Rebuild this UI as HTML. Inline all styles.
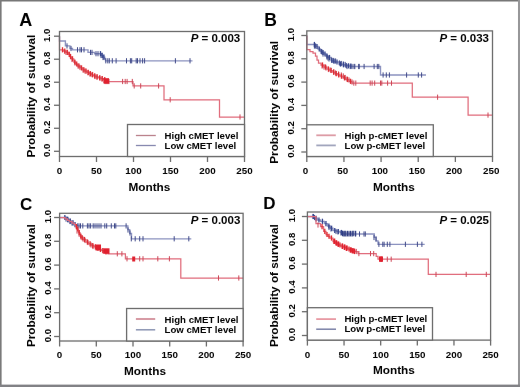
<!DOCTYPE html>
<html><head><meta charset="utf-8"><style>
html,body{margin:0;padding:0;background:#fff;}
svg{display:block;font-family:"Liberation Sans", sans-serif;}
</style></head><body>
<svg width="520" height="387" viewBox="0 0 520 387">
<defs><filter id="bl" x="-2%" y="-2%" width="104%" height="104%" color-interpolation-filters="sRGB"><feConvolveMatrix order="3" kernelMatrix="0.00027 0.01580 0.00027 0.01580 0.93575 0.01580 0.00027 0.01580 0.00027" edgeMode="duplicate" preserveAlpha="false"/></filter></defs>
<g filter="url(#bl)">
<rect x="0" y="0" width="520" height="387" fill="#fff"/>
<path d="M59.50 36.20 V41.00 H65.40 V45.90 H69.90 V48.50 H72.50 V49.80 H88.00 V52.40 H94.50 V53.70 H99.60 H101.33 V55.40 H103.07 V57.10 H104.80 V58.80 H105.50 V60.80 H192.50" fill="none" stroke="#8a91bf" stroke-width="1.35"/>
<line x1="67.00" y1="43.30" x2="67.00" y2="48.50" stroke="#3e4888" stroke-width="1.0"/>
<line x1="71.00" y1="45.90" x2="71.00" y2="51.10" stroke="#3e4888" stroke-width="1.0"/>
<line x1="77.50" y1="47.20" x2="77.50" y2="52.40" stroke="#3e4888" stroke-width="1.0"/>
<line x1="80.00" y1="47.20" x2="80.00" y2="52.40" stroke="#3e4888" stroke-width="1.0"/>
<line x1="81.50" y1="47.20" x2="81.50" y2="52.40" stroke="#3e4888" stroke-width="1.0"/>
<line x1="84.00" y1="47.20" x2="84.00" y2="52.40" stroke="#3e4888" stroke-width="1.0"/>
<line x1="90.50" y1="49.80" x2="90.50" y2="55.00" stroke="#3e4888" stroke-width="1.0"/>
<line x1="92.00" y1="49.80" x2="92.00" y2="55.00" stroke="#3e4888" stroke-width="1.0"/>
<line x1="96.00" y1="51.10" x2="96.00" y2="56.30" stroke="#3e4888" stroke-width="1.0"/>
<line x1="98.00" y1="51.10" x2="98.00" y2="56.30" stroke="#3e4888" stroke-width="1.0"/>
<line x1="101.00" y1="52.90" x2="101.00" y2="58.10" stroke="#3e4888" stroke-width="1.0"/>
<line x1="103.00" y1="54.90" x2="103.00" y2="60.10" stroke="#3e4888" stroke-width="1.0"/>
<line x1="105.80" y1="58.20" x2="105.80" y2="63.40" stroke="#3e4888" stroke-width="1.0"/>
<line x1="107.80" y1="58.20" x2="107.80" y2="63.40" stroke="#3e4888" stroke-width="1.0"/>
<line x1="109.30" y1="58.20" x2="109.30" y2="63.40" stroke="#3e4888" stroke-width="1.0"/>
<line x1="112.30" y1="58.20" x2="112.30" y2="63.40" stroke="#3e4888" stroke-width="1.0"/>
<line x1="116.10" y1="58.20" x2="116.10" y2="63.40" stroke="#3e4888" stroke-width="1.0"/>
<line x1="126.50" y1="58.20" x2="126.50" y2="63.40" stroke="#3e4888" stroke-width="1.0"/>
<line x1="130.40" y1="58.20" x2="130.40" y2="63.40" stroke="#3e4888" stroke-width="1.0"/>
<line x1="131.70" y1="58.20" x2="131.70" y2="63.40" stroke="#3e4888" stroke-width="1.0"/>
<line x1="136.20" y1="58.20" x2="136.20" y2="63.40" stroke="#3e4888" stroke-width="1.0"/>
<line x1="137.50" y1="58.20" x2="137.50" y2="63.40" stroke="#3e4888" stroke-width="1.0"/>
<line x1="140.00" y1="58.20" x2="140.00" y2="63.40" stroke="#3e4888" stroke-width="1.0"/>
<line x1="142.60" y1="58.20" x2="142.60" y2="63.40" stroke="#3e4888" stroke-width="1.0"/>
<line x1="144.60" y1="58.20" x2="144.60" y2="63.40" stroke="#3e4888" stroke-width="1.0"/>
<line x1="175.40" y1="58.20" x2="175.40" y2="63.40" stroke="#3e4888" stroke-width="1.0"/>
<line x1="190.00" y1="58.20" x2="190.00" y2="63.40" stroke="#3e4888" stroke-width="1.0"/>
<line x1="100.47" y1="51.10" x2="100.47" y2="56.30" stroke="#34448e" stroke-width="1.3"/>
<line x1="102.20" y1="52.80" x2="102.20" y2="58.00" stroke="#34448e" stroke-width="1.3"/>
<line x1="103.93" y1="54.50" x2="103.93" y2="59.70" stroke="#34448e" stroke-width="1.3"/>
<path d="M59.50 36.20 V49.80 H61.50 H63.50 V51.10 H66.00 V52.40 H68.60 V54.30 H69.90 V56.55 H71.20 V58.80 H73.80 V62.00 H75.75 V64.00 H77.70 V66.00 H80.25 V67.90 H82.80 V69.80 H84.97 V71.10 H87.13 V72.40 H89.30 V73.70 H91.47 V74.77 H93.63 V75.83 H95.80 V76.90 H98.37 V77.77 H100.93 V78.63 H103.50 V79.50 H106.00 V81.50 H133.00 V85.90 H164.00 V99.80 H219.50 V117.00 H244.50" fill="none" stroke="#e06a7a" stroke-width="1.25"/>
<line x1="66.00" y1="49.80" x2="66.00" y2="55.00" stroke="#cc4454" stroke-width="1.0"/>
<line x1="72.00" y1="56.90" x2="72.00" y2="62.10" stroke="#cc4454" stroke-width="1.0"/>
<line x1="75.00" y1="60.40" x2="75.00" y2="65.60" stroke="#cc4454" stroke-width="1.0"/>
<line x1="78.00" y1="63.40" x2="78.00" y2="68.60" stroke="#cc4454" stroke-width="1.0"/>
<line x1="80.00" y1="64.90" x2="80.00" y2="70.10" stroke="#cc4454" stroke-width="1.0"/>
<line x1="83.00" y1="67.40" x2="83.00" y2="72.60" stroke="#cc4454" stroke-width="1.0"/>
<line x1="85.00" y1="68.40" x2="85.00" y2="73.60" stroke="#cc4454" stroke-width="1.0"/>
<line x1="88.00" y1="70.20" x2="88.00" y2="75.40" stroke="#cc4454" stroke-width="1.0"/>
<line x1="90.00" y1="71.40" x2="90.00" y2="76.60" stroke="#cc4454" stroke-width="1.0"/>
<line x1="92.00" y1="71.90" x2="92.00" y2="77.10" stroke="#cc4454" stroke-width="1.0"/>
<line x1="95.00" y1="73.90" x2="95.00" y2="79.10" stroke="#cc4454" stroke-width="1.0"/>
<line x1="97.00" y1="74.40" x2="97.00" y2="79.60" stroke="#cc4454" stroke-width="1.0"/>
<line x1="100.00" y1="75.60" x2="100.00" y2="80.80" stroke="#cc4454" stroke-width="1.0"/>
<line x1="102.00" y1="76.40" x2="102.00" y2="81.60" stroke="#cc4454" stroke-width="1.0"/>
<line x1="104.00" y1="77.90" x2="104.00" y2="83.10" stroke="#cc4454" stroke-width="1.0"/>
<line x1="105.00" y1="78.90" x2="105.00" y2="84.10" stroke="#cc4454" stroke-width="1.0"/>
<line x1="106.00" y1="78.90" x2="106.00" y2="84.10" stroke="#cc4454" stroke-width="1.0"/>
<line x1="107.00" y1="78.90" x2="107.00" y2="84.10" stroke="#cc4454" stroke-width="1.0"/>
<line x1="108.00" y1="78.90" x2="108.00" y2="84.10" stroke="#cc4454" stroke-width="1.0"/>
<line x1="109.00" y1="78.90" x2="109.00" y2="84.10" stroke="#cc4454" stroke-width="1.0"/>
<line x1="122.60" y1="78.90" x2="122.60" y2="84.10" stroke="#cc4454" stroke-width="1.0"/>
<line x1="125.20" y1="78.90" x2="125.20" y2="84.10" stroke="#cc4454" stroke-width="1.0"/>
<line x1="127.10" y1="78.90" x2="127.10" y2="84.10" stroke="#cc4454" stroke-width="1.0"/>
<line x1="132.30" y1="78.90" x2="132.30" y2="84.10" stroke="#cc4454" stroke-width="1.0"/>
<line x1="134.20" y1="83.30" x2="134.20" y2="88.50" stroke="#cc4454" stroke-width="1.0"/>
<line x1="140.70" y1="83.30" x2="140.70" y2="88.50" stroke="#cc4454" stroke-width="1.0"/>
<line x1="158.60" y1="83.30" x2="158.60" y2="88.50" stroke="#cc4454" stroke-width="1.0"/>
<line x1="170.20" y1="97.20" x2="170.20" y2="102.40" stroke="#cc4454" stroke-width="1.0"/>
<line x1="240.00" y1="114.40" x2="240.00" y2="119.60" stroke="#cc4454" stroke-width="1.0"/>
<line x1="62.50" y1="47.20" x2="62.50" y2="52.40" stroke="#e02a30" stroke-width="1.3"/>
<line x1="64.75" y1="48.50" x2="64.75" y2="53.70" stroke="#e02a30" stroke-width="1.3"/>
<line x1="67.30" y1="49.80" x2="67.30" y2="55.00" stroke="#e02a30" stroke-width="1.3"/>
<line x1="69.25" y1="51.70" x2="69.25" y2="56.90" stroke="#e02a30" stroke-width="1.3"/>
<line x1="70.55" y1="53.95" x2="70.55" y2="59.15" stroke="#e02a30" stroke-width="1.3"/>
<line x1="72.50" y1="56.20" x2="72.50" y2="61.40" stroke="#e02a30" stroke-width="1.3"/>
<line x1="74.78" y1="59.40" x2="74.78" y2="64.60" stroke="#e02a30" stroke-width="1.3"/>
<line x1="76.72" y1="61.40" x2="76.72" y2="66.60" stroke="#e02a30" stroke-width="1.3"/>
<line x1="78.97" y1="63.40" x2="78.97" y2="68.60" stroke="#e02a30" stroke-width="1.3"/>
<line x1="81.53" y1="65.30" x2="81.53" y2="70.50" stroke="#e02a30" stroke-width="1.3"/>
<line x1="83.88" y1="67.20" x2="83.88" y2="72.40" stroke="#e02a30" stroke-width="1.3"/>
<line x1="86.05" y1="68.50" x2="86.05" y2="73.70" stroke="#e02a30" stroke-width="1.3"/>
<line x1="88.22" y1="69.80" x2="88.22" y2="75.00" stroke="#e02a30" stroke-width="1.3"/>
<line x1="90.38" y1="71.10" x2="90.38" y2="76.30" stroke="#e02a30" stroke-width="1.3"/>
<line x1="92.55" y1="72.17" x2="92.55" y2="77.37" stroke="#e02a30" stroke-width="1.3"/>
<line x1="94.72" y1="73.23" x2="94.72" y2="78.43" stroke="#e02a30" stroke-width="1.3"/>
<line x1="97.08" y1="74.30" x2="97.08" y2="79.50" stroke="#e02a30" stroke-width="1.3"/>
<line x1="99.65" y1="75.17" x2="99.65" y2="80.37" stroke="#e02a30" stroke-width="1.3"/>
<line x1="102.22" y1="76.03" x2="102.22" y2="81.23" stroke="#e02a30" stroke-width="1.3"/>
<line x1="104.75" y1="76.90" x2="104.75" y2="82.10" stroke="#e02a30" stroke-width="1.3"/>
<rect x="59.5" y="31.5" width="185.0" height="125.0" fill="none" stroke="#6a6a6a" stroke-width="1.3"/>
<line x1="54.0" y1="151.30" x2="59.5" y2="151.30" stroke="#6a6a6a" stroke-width="1.3"/>
<text transform="translate(50.30,150.40) rotate(-90)" text-anchor="middle" font-size="9.6" font-weight="bold">0.0</text>
<line x1="54.0" y1="128.28" x2="59.5" y2="128.28" stroke="#6a6a6a" stroke-width="1.3"/>
<text transform="translate(50.30,127.38) rotate(-90)" text-anchor="middle" font-size="9.6" font-weight="bold">0.2</text>
<line x1="54.0" y1="105.26" x2="59.5" y2="105.26" stroke="#6a6a6a" stroke-width="1.3"/>
<text transform="translate(50.30,104.36) rotate(-90)" text-anchor="middle" font-size="9.6" font-weight="bold">0.4</text>
<line x1="54.0" y1="82.24" x2="59.5" y2="82.24" stroke="#6a6a6a" stroke-width="1.3"/>
<text transform="translate(50.30,81.34) rotate(-90)" text-anchor="middle" font-size="9.6" font-weight="bold">0.6</text>
<line x1="54.0" y1="59.22" x2="59.5" y2="59.22" stroke="#6a6a6a" stroke-width="1.3"/>
<text transform="translate(50.30,58.32) rotate(-90)" text-anchor="middle" font-size="9.6" font-weight="bold">0.8</text>
<line x1="54.0" y1="36.20" x2="59.5" y2="36.20" stroke="#6a6a6a" stroke-width="1.3"/>
<text transform="translate(50.30,35.30) rotate(-90)" text-anchor="middle" font-size="9.6" font-weight="bold">1.0</text>
<line x1="59.50" y1="156.5" x2="59.50" y2="162.0" stroke="#6a6a6a" stroke-width="1.3"/>
<text x="59.50" y="173.9" text-anchor="middle" font-size="9.8" font-weight="bold">0</text>
<line x1="96.50" y1="156.5" x2="96.50" y2="162.0" stroke="#6a6a6a" stroke-width="1.3"/>
<text x="96.50" y="173.9" text-anchor="middle" font-size="9.8" font-weight="bold">50</text>
<line x1="133.50" y1="156.5" x2="133.50" y2="162.0" stroke="#6a6a6a" stroke-width="1.3"/>
<text x="133.50" y="173.9" text-anchor="middle" font-size="9.8" font-weight="bold">100</text>
<line x1="170.50" y1="156.5" x2="170.50" y2="162.0" stroke="#6a6a6a" stroke-width="1.3"/>
<text x="170.50" y="173.9" text-anchor="middle" font-size="9.8" font-weight="bold">150</text>
<line x1="207.50" y1="156.5" x2="207.50" y2="162.0" stroke="#6a6a6a" stroke-width="1.3"/>
<text x="207.50" y="173.9" text-anchor="middle" font-size="9.8" font-weight="bold">200</text>
<line x1="244.50" y1="156.5" x2="244.50" y2="162.0" stroke="#6a6a6a" stroke-width="1.3"/>
<text x="244.50" y="173.9" text-anchor="middle" font-size="9.8" font-weight="bold">250</text>
<text x="19.2" y="25.8" font-size="18" font-weight="bold">A</text>
<text x="149.4" y="190.9" text-anchor="middle" font-size="11.8" font-weight="bold">Months</text>
<text transform="translate(35.2,96) rotate(-90)" text-anchor="middle" font-size="11.75" font-weight="bold">Probability of survival</text>
<text x="240.2" y="41.9" text-anchor="end" font-size="11.5" font-weight="bold"><tspan font-style="italic">P</tspan> = 0.003</text>
<rect x="127.5" y="124.5" width="117.0" height="32.0" fill="#fff" stroke="#6a6a6a" stroke-width="1.3"/>
<line x1="135.9" y1="135.5" x2="155.8" y2="135.5" stroke="#b97f8a" stroke-width="1.3"/>
<line x1="135.9" y1="145.5" x2="155.8" y2="145.5" stroke="#8587ae" stroke-width="1.3"/>
<text x="164.5" y="138.7" font-size="9.65" font-weight="bold">High cMET level</text>
<text x="164.5" y="148.6" font-size="9.65" font-weight="bold">Low cMET level</text>
<path d="M306.80 35.50 V44.50 H312.80 H316.00 V46.50 H318.00 V49.00 H320.50 V51.50 H322.00 V52.50 H324.00 V54.00 H326.00 V56.00 H328.00 V57.50 H331.00 V60.50 H333.00 V61.25 H335.00 V62.00 H339.00 V64.00 H342.00 V64.75 H345.00 V65.50 H347.33 V65.83 H349.67 V66.17 H352.00 V66.50 H380.50 V75.00 H426.00" fill="none" stroke="#8a91bf" stroke-width="1.35"/>
<line x1="314.40" y1="43.40" x2="314.40" y2="48.60" stroke="#3e4888" stroke-width="1.0"/>
<line x1="315.40" y1="43.40" x2="315.40" y2="48.60" stroke="#3e4888" stroke-width="1.0"/>
<line x1="322.00" y1="49.40" x2="322.00" y2="54.60" stroke="#3e4888" stroke-width="1.0"/>
<line x1="323.00" y1="51.40" x2="323.00" y2="56.60" stroke="#3e4888" stroke-width="1.0"/>
<line x1="327.00" y1="54.40" x2="327.00" y2="59.60" stroke="#3e4888" stroke-width="1.0"/>
<line x1="328.00" y1="55.40" x2="328.00" y2="60.60" stroke="#3e4888" stroke-width="1.0"/>
<line x1="329.00" y1="56.40" x2="329.00" y2="61.60" stroke="#3e4888" stroke-width="1.0"/>
<line x1="331.70" y1="57.40" x2="331.70" y2="62.60" stroke="#3e4888" stroke-width="1.0"/>
<line x1="333.70" y1="57.90" x2="333.70" y2="63.10" stroke="#3e4888" stroke-width="1.0"/>
<line x1="335.60" y1="58.40" x2="335.60" y2="63.60" stroke="#3e4888" stroke-width="1.0"/>
<line x1="339.40" y1="60.40" x2="339.40" y2="65.60" stroke="#3e4888" stroke-width="1.0"/>
<line x1="341.30" y1="60.90" x2="341.30" y2="66.10" stroke="#3e4888" stroke-width="1.0"/>
<line x1="343.30" y1="61.40" x2="343.30" y2="66.60" stroke="#3e4888" stroke-width="1.0"/>
<line x1="345.20" y1="61.90" x2="345.20" y2="67.10" stroke="#3e4888" stroke-width="1.0"/>
<line x1="347.00" y1="63.90" x2="347.00" y2="69.10" stroke="#3e4888" stroke-width="1.0"/>
<line x1="350.20" y1="63.90" x2="350.20" y2="69.10" stroke="#3e4888" stroke-width="1.0"/>
<line x1="352.00" y1="63.90" x2="352.00" y2="69.10" stroke="#3e4888" stroke-width="1.0"/>
<line x1="354.00" y1="63.90" x2="354.00" y2="69.10" stroke="#3e4888" stroke-width="1.0"/>
<line x1="354.80" y1="63.90" x2="354.80" y2="69.10" stroke="#3e4888" stroke-width="1.0"/>
<line x1="358.70" y1="63.90" x2="358.70" y2="69.10" stroke="#3e4888" stroke-width="1.0"/>
<line x1="359.20" y1="63.90" x2="359.20" y2="69.10" stroke="#3e4888" stroke-width="1.0"/>
<line x1="364.10" y1="63.90" x2="364.10" y2="69.10" stroke="#3e4888" stroke-width="1.0"/>
<line x1="374.10" y1="63.90" x2="374.10" y2="69.10" stroke="#3e4888" stroke-width="1.0"/>
<line x1="377.30" y1="63.90" x2="377.30" y2="69.10" stroke="#3e4888" stroke-width="1.0"/>
<line x1="378.80" y1="63.90" x2="378.80" y2="69.10" stroke="#3e4888" stroke-width="1.0"/>
<line x1="383.10" y1="72.40" x2="383.10" y2="77.60" stroke="#3e4888" stroke-width="1.0"/>
<line x1="386.30" y1="72.40" x2="386.30" y2="77.60" stroke="#3e4888" stroke-width="1.0"/>
<line x1="389.40" y1="72.40" x2="389.40" y2="77.60" stroke="#3e4888" stroke-width="1.0"/>
<line x1="406.60" y1="72.40" x2="406.60" y2="77.60" stroke="#3e4888" stroke-width="1.0"/>
<line x1="418.30" y1="72.40" x2="418.30" y2="77.60" stroke="#3e4888" stroke-width="1.0"/>
<line x1="421.60" y1="72.40" x2="421.60" y2="77.60" stroke="#3e4888" stroke-width="1.0"/>
<line x1="314.40" y1="41.90" x2="314.40" y2="47.10" stroke="#34448e" stroke-width="1.3"/>
<line x1="317.00" y1="43.90" x2="317.00" y2="49.10" stroke="#34448e" stroke-width="1.3"/>
<line x1="319.25" y1="46.40" x2="319.25" y2="51.60" stroke="#34448e" stroke-width="1.3"/>
<line x1="321.25" y1="48.90" x2="321.25" y2="54.10" stroke="#34448e" stroke-width="1.3"/>
<line x1="323.00" y1="49.90" x2="323.00" y2="55.10" stroke="#34448e" stroke-width="1.3"/>
<line x1="325.00" y1="51.40" x2="325.00" y2="56.60" stroke="#34448e" stroke-width="1.3"/>
<line x1="327.00" y1="53.40" x2="327.00" y2="58.60" stroke="#34448e" stroke-width="1.3"/>
<line x1="329.50" y1="54.90" x2="329.50" y2="60.10" stroke="#34448e" stroke-width="1.3"/>
<line x1="332.00" y1="57.90" x2="332.00" y2="63.10" stroke="#34448e" stroke-width="1.3"/>
<line x1="334.00" y1="58.65" x2="334.00" y2="63.85" stroke="#34448e" stroke-width="1.3"/>
<line x1="337.00" y1="59.40" x2="337.00" y2="64.60" stroke="#34448e" stroke-width="1.3"/>
<line x1="340.50" y1="61.40" x2="340.50" y2="66.60" stroke="#34448e" stroke-width="1.3"/>
<line x1="343.50" y1="62.15" x2="343.50" y2="67.35" stroke="#34448e" stroke-width="1.3"/>
<line x1="346.17" y1="62.90" x2="346.17" y2="68.10" stroke="#34448e" stroke-width="1.3"/>
<line x1="348.50" y1="63.23" x2="348.50" y2="68.43" stroke="#34448e" stroke-width="1.3"/>
<line x1="350.83" y1="63.57" x2="350.83" y2="68.77" stroke="#34448e" stroke-width="1.3"/>
<path d="M306.80 35.50 V49.60 H310.00 V51.50 H313.00 V53.00 H315.50 V56.00 H317.00 V60.00 H318.50 V63.00 H321.00 V65.00 H324.00 V67.00 H327.00 V69.00 H329.80 V70.50 H332.40 V72.10 H335.00 V73.70 H337.50 V74.95 H340.00 V76.20 H343.00 V77.85 H346.00 V79.50 H349.00 V81.30 H352.00 V83.10 H412.30 V97.20 H468.10 V115.10 H492.50" fill="none" stroke="#e06a7a" stroke-width="1.25"/>
<line x1="322.10" y1="63.40" x2="322.10" y2="68.60" stroke="#cc4454" stroke-width="1.0"/>
<line x1="324.00" y1="64.40" x2="324.00" y2="69.60" stroke="#cc4454" stroke-width="1.0"/>
<line x1="326.00" y1="65.40" x2="326.00" y2="70.60" stroke="#cc4454" stroke-width="1.0"/>
<line x1="328.80" y1="66.90" x2="328.80" y2="72.10" stroke="#cc4454" stroke-width="1.0"/>
<line x1="330.80" y1="67.40" x2="330.80" y2="72.60" stroke="#cc4454" stroke-width="1.0"/>
<line x1="333.70" y1="69.40" x2="333.70" y2="74.60" stroke="#cc4454" stroke-width="1.0"/>
<line x1="335.60" y1="70.40" x2="335.60" y2="75.60" stroke="#cc4454" stroke-width="1.0"/>
<line x1="338.50" y1="71.40" x2="338.50" y2="76.60" stroke="#cc4454" stroke-width="1.0"/>
<line x1="341.30" y1="72.40" x2="341.30" y2="77.60" stroke="#cc4454" stroke-width="1.0"/>
<line x1="343.30" y1="73.40" x2="343.30" y2="78.60" stroke="#cc4454" stroke-width="1.0"/>
<line x1="345.20" y1="74.90" x2="345.20" y2="80.10" stroke="#cc4454" stroke-width="1.0"/>
<line x1="347.00" y1="76.40" x2="347.00" y2="81.60" stroke="#cc4454" stroke-width="1.0"/>
<line x1="349.00" y1="77.40" x2="349.00" y2="82.60" stroke="#cc4454" stroke-width="1.0"/>
<line x1="352.00" y1="79.40" x2="352.00" y2="84.60" stroke="#cc4454" stroke-width="1.0"/>
<line x1="353.80" y1="80.50" x2="353.80" y2="85.70" stroke="#cc4454" stroke-width="1.0"/>
<line x1="355.80" y1="80.50" x2="355.80" y2="85.70" stroke="#cc4454" stroke-width="1.0"/>
<line x1="370.20" y1="80.50" x2="370.20" y2="85.70" stroke="#cc4454" stroke-width="1.0"/>
<line x1="372.10" y1="80.50" x2="372.10" y2="85.70" stroke="#cc4454" stroke-width="1.0"/>
<line x1="374.70" y1="80.50" x2="374.70" y2="85.70" stroke="#cc4454" stroke-width="1.0"/>
<line x1="380.50" y1="80.50" x2="380.50" y2="85.70" stroke="#cc4454" stroke-width="1.0"/>
<line x1="381.80" y1="80.50" x2="381.80" y2="85.70" stroke="#cc4454" stroke-width="1.0"/>
<line x1="387.60" y1="80.50" x2="387.60" y2="85.70" stroke="#cc4454" stroke-width="1.0"/>
<line x1="391.50" y1="80.50" x2="391.50" y2="85.70" stroke="#cc4454" stroke-width="1.0"/>
<line x1="437.60" y1="94.60" x2="437.60" y2="99.80" stroke="#cc4454" stroke-width="1.0"/>
<line x1="488.00" y1="112.50" x2="488.00" y2="117.70" stroke="#cc4454" stroke-width="1.0"/>
<line x1="322.50" y1="62.40" x2="322.50" y2="67.60" stroke="#e02a30" stroke-width="1.3"/>
<line x1="325.50" y1="64.40" x2="325.50" y2="69.60" stroke="#e02a30" stroke-width="1.3"/>
<line x1="328.40" y1="66.40" x2="328.40" y2="71.60" stroke="#e02a30" stroke-width="1.3"/>
<line x1="331.10" y1="67.90" x2="331.10" y2="73.10" stroke="#e02a30" stroke-width="1.3"/>
<line x1="333.70" y1="69.50" x2="333.70" y2="74.70" stroke="#e02a30" stroke-width="1.3"/>
<line x1="336.25" y1="71.10" x2="336.25" y2="76.30" stroke="#e02a30" stroke-width="1.3"/>
<line x1="338.75" y1="72.35" x2="338.75" y2="77.55" stroke="#e02a30" stroke-width="1.3"/>
<line x1="341.50" y1="73.60" x2="341.50" y2="78.80" stroke="#e02a30" stroke-width="1.3"/>
<line x1="344.50" y1="75.25" x2="344.50" y2="80.45" stroke="#e02a30" stroke-width="1.3"/>
<line x1="347.50" y1="76.90" x2="347.50" y2="82.10" stroke="#e02a30" stroke-width="1.3"/>
<line x1="350.50" y1="78.70" x2="350.50" y2="83.90" stroke="#e02a30" stroke-width="1.3"/>
<rect x="306.8" y="30.9" width="185.7" height="125.6" fill="none" stroke="#6a6a6a" stroke-width="1.3"/>
<line x1="301.3" y1="152.00" x2="306.8" y2="152.00" stroke="#6a6a6a" stroke-width="1.3"/>
<text transform="translate(294.10,151.10) rotate(-90)" text-anchor="middle" font-size="9.6" font-weight="bold">0.0</text>
<line x1="301.3" y1="128.70" x2="306.8" y2="128.70" stroke="#6a6a6a" stroke-width="1.3"/>
<text transform="translate(294.10,127.80) rotate(-90)" text-anchor="middle" font-size="9.6" font-weight="bold">0.2</text>
<line x1="301.3" y1="105.40" x2="306.8" y2="105.40" stroke="#6a6a6a" stroke-width="1.3"/>
<text transform="translate(294.10,104.50) rotate(-90)" text-anchor="middle" font-size="9.6" font-weight="bold">0.4</text>
<line x1="301.3" y1="82.10" x2="306.8" y2="82.10" stroke="#6a6a6a" stroke-width="1.3"/>
<text transform="translate(294.10,81.20) rotate(-90)" text-anchor="middle" font-size="9.6" font-weight="bold">0.6</text>
<line x1="301.3" y1="58.80" x2="306.8" y2="58.80" stroke="#6a6a6a" stroke-width="1.3"/>
<text transform="translate(294.10,57.90) rotate(-90)" text-anchor="middle" font-size="9.6" font-weight="bold">0.8</text>
<line x1="301.3" y1="35.50" x2="306.8" y2="35.50" stroke="#6a6a6a" stroke-width="1.3"/>
<text transform="translate(294.10,34.60) rotate(-90)" text-anchor="middle" font-size="9.6" font-weight="bold">1.0</text>
<line x1="306.80" y1="156.5" x2="306.80" y2="162.0" stroke="#6a6a6a" stroke-width="1.3"/>
<text x="305.60" y="174.1" text-anchor="middle" font-size="9.8" font-weight="bold">0</text>
<line x1="343.94" y1="156.5" x2="343.94" y2="162.0" stroke="#6a6a6a" stroke-width="1.3"/>
<text x="342.74" y="174.1" text-anchor="middle" font-size="9.8" font-weight="bold">50</text>
<line x1="381.08" y1="156.5" x2="381.08" y2="162.0" stroke="#6a6a6a" stroke-width="1.3"/>
<text x="379.88" y="174.1" text-anchor="middle" font-size="9.8" font-weight="bold">100</text>
<line x1="418.22" y1="156.5" x2="418.22" y2="162.0" stroke="#6a6a6a" stroke-width="1.3"/>
<text x="417.02" y="174.1" text-anchor="middle" font-size="9.8" font-weight="bold">150</text>
<line x1="455.36" y1="156.5" x2="455.36" y2="162.0" stroke="#6a6a6a" stroke-width="1.3"/>
<text x="454.16" y="174.1" text-anchor="middle" font-size="9.8" font-weight="bold">200</text>
<line x1="492.50" y1="156.5" x2="492.50" y2="162.0" stroke="#6a6a6a" stroke-width="1.3"/>
<text x="491.30" y="174.1" text-anchor="middle" font-size="9.8" font-weight="bold">250</text>
<text x="264.2" y="25.6" font-size="17.5" font-weight="bold">B</text>
<text x="393.9" y="190.6" text-anchor="middle" font-size="11.8" font-weight="bold">Months</text>
<text transform="translate(278.2,102.4) rotate(-90)" text-anchor="middle" font-size="11.75" font-weight="bold">Probability of survival</text>
<text x="489" y="42" text-anchor="end" font-size="11.5" font-weight="bold"><tspan font-style="italic">P</tspan> = 0.033</text>
<rect x="306.8" y="124.8" width="126.5" height="31.700000000000003" fill="#fff" stroke="#6a6a6a" stroke-width="1.3"/>
<line x1="316.3" y1="135.3" x2="335.8" y2="135.3" stroke="#dc9aa4" stroke-width="1.8"/>
<line x1="316.3" y1="145.4" x2="335.8" y2="145.4" stroke="#a0a4bc" stroke-width="1.8"/>
<text x="344.5" y="138.7" font-size="9.65" font-weight="bold">High p-cMET level</text>
<text x="344.5" y="148.7" font-size="9.65" font-weight="bold">Low p-cMET level</text>
<path d="M59.60 217.50 H63.50 H66.22 V219.28 H68.95 V221.05 H71.67 V222.83 H74.40 V224.60 H75.70 V225.90 H126.10 H127.90 V229.60 H129.70 V233.30 H131.50 V237.00 V238.80 H191.30" fill="none" stroke="#8a91bf" stroke-width="1.35"/>
<line x1="66.00" y1="216.40" x2="66.00" y2="221.60" stroke="#3e4888" stroke-width="1.0"/>
<line x1="68.00" y1="217.40" x2="68.00" y2="222.60" stroke="#3e4888" stroke-width="1.0"/>
<line x1="70.00" y1="218.90" x2="70.00" y2="224.10" stroke="#3e4888" stroke-width="1.0"/>
<line x1="72.00" y1="220.40" x2="72.00" y2="225.60" stroke="#3e4888" stroke-width="1.0"/>
<line x1="77.70" y1="223.30" x2="77.70" y2="228.50" stroke="#3e4888" stroke-width="1.0"/>
<line x1="79.00" y1="223.30" x2="79.00" y2="228.50" stroke="#3e4888" stroke-width="1.0"/>
<line x1="80.50" y1="223.30" x2="80.50" y2="228.50" stroke="#3e4888" stroke-width="1.0"/>
<line x1="82.80" y1="223.30" x2="82.80" y2="228.50" stroke="#3e4888" stroke-width="1.0"/>
<line x1="87.40" y1="223.30" x2="87.40" y2="228.50" stroke="#3e4888" stroke-width="1.0"/>
<line x1="89.00" y1="223.30" x2="89.00" y2="228.50" stroke="#3e4888" stroke-width="1.0"/>
<line x1="90.60" y1="223.30" x2="90.60" y2="228.50" stroke="#3e4888" stroke-width="1.0"/>
<line x1="93.20" y1="223.30" x2="93.20" y2="228.50" stroke="#3e4888" stroke-width="1.0"/>
<line x1="95.00" y1="223.30" x2="95.00" y2="228.50" stroke="#3e4888" stroke-width="1.0"/>
<line x1="97.00" y1="223.30" x2="97.00" y2="228.50" stroke="#3e4888" stroke-width="1.0"/>
<line x1="99.00" y1="223.30" x2="99.00" y2="228.50" stroke="#3e4888" stroke-width="1.0"/>
<line x1="101.00" y1="223.30" x2="101.00" y2="228.50" stroke="#3e4888" stroke-width="1.0"/>
<line x1="104.80" y1="223.30" x2="104.80" y2="228.50" stroke="#3e4888" stroke-width="1.0"/>
<line x1="106.70" y1="223.30" x2="106.70" y2="228.50" stroke="#3e4888" stroke-width="1.0"/>
<line x1="111.30" y1="223.30" x2="111.30" y2="228.50" stroke="#3e4888" stroke-width="1.0"/>
<line x1="114.50" y1="223.30" x2="114.50" y2="228.50" stroke="#3e4888" stroke-width="1.0"/>
<line x1="115.80" y1="223.30" x2="115.80" y2="228.50" stroke="#3e4888" stroke-width="1.0"/>
<line x1="126.10" y1="223.30" x2="126.10" y2="228.50" stroke="#3e4888" stroke-width="1.0"/>
<line x1="128.00" y1="227.40" x2="128.00" y2="232.60" stroke="#3e4888" stroke-width="1.0"/>
<line x1="130.00" y1="230.40" x2="130.00" y2="235.60" stroke="#3e4888" stroke-width="1.0"/>
<line x1="131.30" y1="236.20" x2="131.30" y2="241.40" stroke="#3e4888" stroke-width="1.0"/>
<line x1="135.20" y1="236.20" x2="135.20" y2="241.40" stroke="#3e4888" stroke-width="1.0"/>
<line x1="139.70" y1="236.20" x2="139.70" y2="241.40" stroke="#3e4888" stroke-width="1.0"/>
<line x1="143.00" y1="236.20" x2="143.00" y2="241.40" stroke="#3e4888" stroke-width="1.0"/>
<line x1="174.20" y1="236.20" x2="174.20" y2="241.40" stroke="#3e4888" stroke-width="1.0"/>
<line x1="188.80" y1="236.20" x2="188.80" y2="241.40" stroke="#3e4888" stroke-width="1.0"/>
<line x1="64.86" y1="214.90" x2="64.86" y2="220.10" stroke="#34448e" stroke-width="1.3"/>
<line x1="67.59" y1="216.68" x2="67.59" y2="221.88" stroke="#34448e" stroke-width="1.3"/>
<line x1="70.31" y1="218.45" x2="70.31" y2="223.65" stroke="#34448e" stroke-width="1.3"/>
<line x1="73.04" y1="220.23" x2="73.04" y2="225.43" stroke="#34448e" stroke-width="1.3"/>
<line x1="75.05" y1="222.00" x2="75.05" y2="227.20" stroke="#34448e" stroke-width="1.3"/>
<path d="M59.60 217.50 H62.80 H65.12 V218.88 H67.44 V220.26 H69.76 V221.64 H72.08 V223.02 H74.40 V224.40 H75.70 V226.70 H77.00 V229.00 H78.50 V232.50 H80.00 V236.00 H81.50 V237.75 H83.00 V239.50 H86.00 V242.00 H88.75 V243.80 H91.50 V245.60 H94.07 V246.87 H96.63 V248.13 H99.20 V249.40 H101.60 V250.70 H104.00 V252.00 H108.00 V253.80 H125.40 V258.80 H180.80 V278.00 H243.10" fill="none" stroke="#e06a7a" stroke-width="1.25"/>
<line x1="77.00" y1="228.40" x2="77.00" y2="233.60" stroke="#cc4454" stroke-width="1.0"/>
<line x1="79.00" y1="231.40" x2="79.00" y2="236.60" stroke="#cc4454" stroke-width="1.0"/>
<line x1="81.00" y1="234.40" x2="81.00" y2="239.60" stroke="#cc4454" stroke-width="1.0"/>
<line x1="83.00" y1="236.40" x2="83.00" y2="241.60" stroke="#cc4454" stroke-width="1.0"/>
<line x1="85.00" y1="237.90" x2="85.00" y2="243.10" stroke="#cc4454" stroke-width="1.0"/>
<line x1="88.00" y1="239.90" x2="88.00" y2="245.10" stroke="#cc4454" stroke-width="1.0"/>
<line x1="91.00" y1="242.40" x2="91.00" y2="247.60" stroke="#cc4454" stroke-width="1.0"/>
<line x1="93.00" y1="243.90" x2="93.00" y2="249.10" stroke="#cc4454" stroke-width="1.0"/>
<line x1="117.30" y1="251.20" x2="117.30" y2="256.40" stroke="#cc4454" stroke-width="1.0"/>
<line x1="121.90" y1="251.20" x2="121.90" y2="256.40" stroke="#cc4454" stroke-width="1.0"/>
<line x1="127.00" y1="256.20" x2="127.00" y2="261.40" stroke="#cc4454" stroke-width="1.0"/>
<line x1="139.70" y1="256.20" x2="139.70" y2="261.40" stroke="#cc4454" stroke-width="1.0"/>
<line x1="143.00" y1="256.20" x2="143.00" y2="261.40" stroke="#cc4454" stroke-width="1.0"/>
<line x1="157.80" y1="256.20" x2="157.80" y2="261.40" stroke="#cc4454" stroke-width="1.0"/>
<line x1="169.40" y1="256.20" x2="169.40" y2="261.40" stroke="#cc4454" stroke-width="1.0"/>
<line x1="218.50" y1="275.40" x2="218.50" y2="280.60" stroke="#cc4454" stroke-width="1.0"/>
<line x1="238.80" y1="275.40" x2="238.80" y2="280.60" stroke="#cc4454" stroke-width="1.0"/>
<line x1="76.35" y1="224.10" x2="76.35" y2="229.30" stroke="#e02a30" stroke-width="1.3"/>
<line x1="77.75" y1="226.40" x2="77.75" y2="231.60" stroke="#e02a30" stroke-width="1.3"/>
<line x1="79.25" y1="229.90" x2="79.25" y2="235.10" stroke="#e02a30" stroke-width="1.3"/>
<line x1="80.75" y1="233.40" x2="80.75" y2="238.60" stroke="#e02a30" stroke-width="1.3"/>
<line x1="82.25" y1="235.15" x2="82.25" y2="240.35" stroke="#e02a30" stroke-width="1.3"/>
<line x1="84.50" y1="236.90" x2="84.50" y2="242.10" stroke="#e02a30" stroke-width="1.3"/>
<line x1="87.38" y1="239.40" x2="87.38" y2="244.60" stroke="#e02a30" stroke-width="1.3"/>
<line x1="90.12" y1="241.20" x2="90.12" y2="246.40" stroke="#e02a30" stroke-width="1.3"/>
<line x1="92.78" y1="243.00" x2="92.78" y2="248.20" stroke="#e02a30" stroke-width="1.3"/>
<line x1="95.35" y1="244.27" x2="95.35" y2="249.47" stroke="#e02a30" stroke-width="1.3"/>
<line x1="97.92" y1="245.53" x2="97.92" y2="250.73" stroke="#e02a30" stroke-width="1.3"/>
<line x1="100.40" y1="246.80" x2="100.40" y2="252.00" stroke="#e02a30" stroke-width="1.3"/>
<line x1="102.80" y1="248.10" x2="102.80" y2="253.30" stroke="#e02a30" stroke-width="1.3"/>
<line x1="106.00" y1="249.40" x2="106.00" y2="254.60" stroke="#e02a30" stroke-width="1.3"/>
<rect x="59.6" y="213.3" width="183.5" height="127.69999999999999" fill="none" stroke="#6a6a6a" stroke-width="1.3"/>
<line x1="54.1" y1="336.50" x2="59.6" y2="336.50" stroke="#6a6a6a" stroke-width="1.3"/>
<text transform="translate(50.60,335.60) rotate(-90)" text-anchor="middle" font-size="9.6" font-weight="bold">0.0</text>
<line x1="54.1" y1="312.70" x2="59.6" y2="312.70" stroke="#6a6a6a" stroke-width="1.3"/>
<text transform="translate(50.60,311.80) rotate(-90)" text-anchor="middle" font-size="9.6" font-weight="bold">0.2</text>
<line x1="54.1" y1="288.90" x2="59.6" y2="288.90" stroke="#6a6a6a" stroke-width="1.3"/>
<text transform="translate(50.60,288.00) rotate(-90)" text-anchor="middle" font-size="9.6" font-weight="bold">0.4</text>
<line x1="54.1" y1="265.10" x2="59.6" y2="265.10" stroke="#6a6a6a" stroke-width="1.3"/>
<text transform="translate(50.60,264.20) rotate(-90)" text-anchor="middle" font-size="9.6" font-weight="bold">0.6</text>
<line x1="54.1" y1="241.30" x2="59.6" y2="241.30" stroke="#6a6a6a" stroke-width="1.3"/>
<text transform="translate(50.60,240.40) rotate(-90)" text-anchor="middle" font-size="9.6" font-weight="bold">0.8</text>
<line x1="54.1" y1="217.50" x2="59.6" y2="217.50" stroke="#6a6a6a" stroke-width="1.3"/>
<text transform="translate(50.60,216.60) rotate(-90)" text-anchor="middle" font-size="9.6" font-weight="bold">1.0</text>
<line x1="59.60" y1="341.0" x2="59.60" y2="346.5" stroke="#6a6a6a" stroke-width="1.3"/>
<text x="59.60" y="357.6" text-anchor="middle" font-size="9.8" font-weight="bold">0</text>
<line x1="96.30" y1="341.0" x2="96.30" y2="346.5" stroke="#6a6a6a" stroke-width="1.3"/>
<text x="96.30" y="357.6" text-anchor="middle" font-size="9.8" font-weight="bold">50</text>
<line x1="133.00" y1="341.0" x2="133.00" y2="346.5" stroke="#6a6a6a" stroke-width="1.3"/>
<text x="133.00" y="357.6" text-anchor="middle" font-size="9.8" font-weight="bold">100</text>
<line x1="169.70" y1="341.0" x2="169.70" y2="346.5" stroke="#6a6a6a" stroke-width="1.3"/>
<text x="169.70" y="357.6" text-anchor="middle" font-size="9.8" font-weight="bold">150</text>
<line x1="206.40" y1="341.0" x2="206.40" y2="346.5" stroke="#6a6a6a" stroke-width="1.3"/>
<text x="206.40" y="357.6" text-anchor="middle" font-size="9.8" font-weight="bold">200</text>
<line x1="243.10" y1="341.0" x2="243.10" y2="346.5" stroke="#6a6a6a" stroke-width="1.3"/>
<text x="243.10" y="357.6" text-anchor="middle" font-size="9.8" font-weight="bold">250</text>
<text x="20.0" y="209.6" font-size="17" font-weight="bold">C</text>
<text x="145" y="374.5" text-anchor="middle" font-size="11.8" font-weight="bold">Months</text>
<text transform="translate(35.2,285.7) rotate(-90)" text-anchor="middle" font-size="11.75" font-weight="bold">Probability of survival</text>
<text x="240.3" y="223.8" text-anchor="end" font-size="11.5" font-weight="bold"><tspan font-style="italic">P</tspan> = 0.003</text>
<rect x="126.6" y="308.5" width="116.5" height="32.5" fill="#fff" stroke="#6a6a6a" stroke-width="1.3"/>
<line x1="135.9" y1="319" x2="155.2" y2="319" stroke="#c46e7c" stroke-width="1.4"/>
<line x1="135.9" y1="329.8" x2="155.2" y2="329.8" stroke="#8a94b2" stroke-width="1.5"/>
<text x="164.6" y="322.7" font-size="9.65" font-weight="bold">High cMET level</text>
<text x="164.6" y="333" font-size="9.65" font-weight="bold">Low cMET level</text>
<path d="M307.40 216.50 H312.00 H314.70 V218.25 H317.40 V220.00 H320.50 V221.30 H324.40 V223.60 H327.50 V226.00 H330.25 V228.25 H333.00 V230.50 H336.50 V231.50 H340.00 V232.50 H343.00 V234.00 H372.40 H374.27 V237.43 H376.13 V240.87 H378.00 V244.30 H424.70" fill="none" stroke="#8a91bf" stroke-width="1.35"/>
<line x1="313.00" y1="213.90" x2="313.00" y2="219.10" stroke="#3e4888" stroke-width="1.0"/>
<line x1="314.50" y1="214.90" x2="314.50" y2="220.10" stroke="#3e4888" stroke-width="1.0"/>
<line x1="316.00" y1="216.40" x2="316.00" y2="221.60" stroke="#3e4888" stroke-width="1.0"/>
<line x1="329.00" y1="224.90" x2="329.00" y2="230.10" stroke="#3e4888" stroke-width="1.0"/>
<line x1="331.00" y1="226.40" x2="331.00" y2="231.60" stroke="#3e4888" stroke-width="1.0"/>
<line x1="336.00" y1="228.90" x2="336.00" y2="234.10" stroke="#3e4888" stroke-width="1.0"/>
<line x1="338.00" y1="229.40" x2="338.00" y2="234.60" stroke="#3e4888" stroke-width="1.0"/>
<line x1="341.00" y1="230.40" x2="341.00" y2="235.60" stroke="#3e4888" stroke-width="1.0"/>
<line x1="344.00" y1="231.40" x2="344.00" y2="236.60" stroke="#3e4888" stroke-width="1.0"/>
<line x1="346.00" y1="231.40" x2="346.00" y2="236.60" stroke="#3e4888" stroke-width="1.0"/>
<line x1="348.00" y1="231.40" x2="348.00" y2="236.60" stroke="#3e4888" stroke-width="1.0"/>
<line x1="350.00" y1="231.40" x2="350.00" y2="236.60" stroke="#3e4888" stroke-width="1.0"/>
<line x1="352.00" y1="231.40" x2="352.00" y2="236.60" stroke="#3e4888" stroke-width="1.0"/>
<line x1="355.60" y1="231.40" x2="355.60" y2="236.60" stroke="#3e4888" stroke-width="1.0"/>
<line x1="359.50" y1="231.40" x2="359.50" y2="236.60" stroke="#3e4888" stroke-width="1.0"/>
<line x1="364.00" y1="231.40" x2="364.00" y2="236.60" stroke="#3e4888" stroke-width="1.0"/>
<line x1="365.30" y1="231.40" x2="365.30" y2="236.60" stroke="#3e4888" stroke-width="1.0"/>
<line x1="374.00" y1="234.90" x2="374.00" y2="240.10" stroke="#3e4888" stroke-width="1.0"/>
<line x1="376.00" y1="236.40" x2="376.00" y2="241.60" stroke="#3e4888" stroke-width="1.0"/>
<line x1="378.90" y1="241.70" x2="378.90" y2="246.90" stroke="#3e4888" stroke-width="1.0"/>
<line x1="382.80" y1="241.70" x2="382.80" y2="246.90" stroke="#3e4888" stroke-width="1.0"/>
<line x1="384.10" y1="241.70" x2="384.10" y2="246.90" stroke="#3e4888" stroke-width="1.0"/>
<line x1="387.30" y1="241.70" x2="387.30" y2="246.90" stroke="#3e4888" stroke-width="1.0"/>
<line x1="389.90" y1="241.70" x2="389.90" y2="246.90" stroke="#3e4888" stroke-width="1.0"/>
<line x1="405.40" y1="241.70" x2="405.40" y2="246.90" stroke="#3e4888" stroke-width="1.0"/>
<line x1="417.40" y1="241.70" x2="417.40" y2="246.90" stroke="#3e4888" stroke-width="1.0"/>
<line x1="421.90" y1="241.70" x2="421.90" y2="246.90" stroke="#3e4888" stroke-width="1.0"/>
<line x1="313.35" y1="213.90" x2="313.35" y2="219.10" stroke="#34448e" stroke-width="1.3"/>
<line x1="316.05" y1="215.65" x2="316.05" y2="220.85" stroke="#34448e" stroke-width="1.3"/>
<line x1="318.95" y1="217.40" x2="318.95" y2="222.60" stroke="#34448e" stroke-width="1.3"/>
<line x1="322.45" y1="218.70" x2="322.45" y2="223.90" stroke="#34448e" stroke-width="1.3"/>
<line x1="325.95" y1="221.00" x2="325.95" y2="226.20" stroke="#34448e" stroke-width="1.3"/>
<line x1="328.88" y1="223.40" x2="328.88" y2="228.60" stroke="#34448e" stroke-width="1.3"/>
<line x1="331.62" y1="225.65" x2="331.62" y2="230.85" stroke="#34448e" stroke-width="1.3"/>
<line x1="334.75" y1="227.90" x2="334.75" y2="233.10" stroke="#34448e" stroke-width="1.3"/>
<line x1="338.25" y1="228.90" x2="338.25" y2="234.10" stroke="#34448e" stroke-width="1.3"/>
<line x1="341.50" y1="229.90" x2="341.50" y2="235.10" stroke="#34448e" stroke-width="1.3"/>
<path d="M307.40 216.50 H316.00 V223.50 H320.50 V226.70 H323.60 V231.40 H326.00 V234.50 H328.00 V236.25 H330.00 V238.00 H333.00 V241.50 H335.00 V242.75 H337.00 V244.00 H339.00 V245.00 H341.00 V246.00 H343.50 V247.00 H346.00 V248.00 H348.00 V249.00 H350.00 V250.00 H352.50 V250.75 H355.00 V251.50 H358.00 V253.60 H374.40 H376.20 V256.40 H378.00 V259.20 H428.30 V274.40 H490.60" fill="none" stroke="#e06a7a" stroke-width="1.25"/>
<line x1="318.00" y1="222.40" x2="318.00" y2="227.60" stroke="#cc4454" stroke-width="1.0"/>
<line x1="356.30" y1="248.90" x2="356.30" y2="254.10" stroke="#cc4454" stroke-width="1.0"/>
<line x1="358.90" y1="251.00" x2="358.90" y2="256.20" stroke="#cc4454" stroke-width="1.0"/>
<line x1="370.50" y1="251.00" x2="370.50" y2="256.20" stroke="#cc4454" stroke-width="1.0"/>
<line x1="373.70" y1="251.00" x2="373.70" y2="256.20" stroke="#cc4454" stroke-width="1.0"/>
<line x1="380.80" y1="256.60" x2="380.80" y2="261.80" stroke="#cc4454" stroke-width="1.0"/>
<line x1="381.50" y1="256.60" x2="381.50" y2="261.80" stroke="#cc4454" stroke-width="1.0"/>
<line x1="387.30" y1="256.60" x2="387.30" y2="261.80" stroke="#cc4454" stroke-width="1.0"/>
<line x1="391.20" y1="256.60" x2="391.20" y2="261.80" stroke="#cc4454" stroke-width="1.0"/>
<line x1="436.00" y1="271.80" x2="436.00" y2="277.00" stroke="#cc4454" stroke-width="1.0"/>
<line x1="466.20" y1="271.80" x2="466.20" y2="277.00" stroke="#cc4454" stroke-width="1.0"/>
<line x1="486.30" y1="271.80" x2="486.30" y2="277.00" stroke="#cc4454" stroke-width="1.0"/>
<line x1="322.05" y1="224.10" x2="322.05" y2="229.30" stroke="#e02a30" stroke-width="1.3"/>
<line x1="324.80" y1="228.80" x2="324.80" y2="234.00" stroke="#e02a30" stroke-width="1.3"/>
<line x1="327.00" y1="231.90" x2="327.00" y2="237.10" stroke="#e02a30" stroke-width="1.3"/>
<line x1="329.00" y1="233.65" x2="329.00" y2="238.85" stroke="#e02a30" stroke-width="1.3"/>
<line x1="331.50" y1="235.40" x2="331.50" y2="240.60" stroke="#e02a30" stroke-width="1.3"/>
<line x1="334.00" y1="238.90" x2="334.00" y2="244.10" stroke="#e02a30" stroke-width="1.3"/>
<line x1="336.00" y1="240.15" x2="336.00" y2="245.35" stroke="#e02a30" stroke-width="1.3"/>
<line x1="338.00" y1="241.40" x2="338.00" y2="246.60" stroke="#e02a30" stroke-width="1.3"/>
<line x1="340.00" y1="242.40" x2="340.00" y2="247.60" stroke="#e02a30" stroke-width="1.3"/>
<line x1="342.25" y1="243.40" x2="342.25" y2="248.60" stroke="#e02a30" stroke-width="1.3"/>
<line x1="344.75" y1="244.40" x2="344.75" y2="249.60" stroke="#e02a30" stroke-width="1.3"/>
<line x1="347.00" y1="245.40" x2="347.00" y2="250.60" stroke="#e02a30" stroke-width="1.3"/>
<line x1="349.00" y1="246.40" x2="349.00" y2="251.60" stroke="#e02a30" stroke-width="1.3"/>
<line x1="351.25" y1="247.40" x2="351.25" y2="252.60" stroke="#e02a30" stroke-width="1.3"/>
<line x1="353.75" y1="248.15" x2="353.75" y2="253.35" stroke="#e02a30" stroke-width="1.3"/>
<rect x="307.4" y="212.0" width="183.20000000000005" height="128.10000000000002" fill="none" stroke="#6a6a6a" stroke-width="1.3"/>
<line x1="301.9" y1="335.50" x2="307.4" y2="335.50" stroke="#6a6a6a" stroke-width="1.3"/>
<text transform="translate(294.70,334.60) rotate(-90)" text-anchor="middle" font-size="9.6" font-weight="bold">0.0</text>
<line x1="301.9" y1="311.70" x2="307.4" y2="311.70" stroke="#6a6a6a" stroke-width="1.3"/>
<text transform="translate(294.70,310.80) rotate(-90)" text-anchor="middle" font-size="9.6" font-weight="bold">0.2</text>
<line x1="301.9" y1="287.90" x2="307.4" y2="287.90" stroke="#6a6a6a" stroke-width="1.3"/>
<text transform="translate(294.70,287.00) rotate(-90)" text-anchor="middle" font-size="9.6" font-weight="bold">0.4</text>
<line x1="301.9" y1="264.10" x2="307.4" y2="264.10" stroke="#6a6a6a" stroke-width="1.3"/>
<text transform="translate(294.70,263.20) rotate(-90)" text-anchor="middle" font-size="9.6" font-weight="bold">0.6</text>
<line x1="301.9" y1="240.30" x2="307.4" y2="240.30" stroke="#6a6a6a" stroke-width="1.3"/>
<text transform="translate(294.70,239.40) rotate(-90)" text-anchor="middle" font-size="9.6" font-weight="bold">0.8</text>
<line x1="301.9" y1="216.50" x2="307.4" y2="216.50" stroke="#6a6a6a" stroke-width="1.3"/>
<text transform="translate(294.70,215.60) rotate(-90)" text-anchor="middle" font-size="9.6" font-weight="bold">1.0</text>
<line x1="307.40" y1="340.1" x2="307.40" y2="345.6" stroke="#6a6a6a" stroke-width="1.3"/>
<text x="307.40" y="357.9" text-anchor="middle" font-size="9.8" font-weight="bold">0</text>
<line x1="344.04" y1="340.1" x2="344.04" y2="345.6" stroke="#6a6a6a" stroke-width="1.3"/>
<text x="344.04" y="357.9" text-anchor="middle" font-size="9.8" font-weight="bold">50</text>
<line x1="380.68" y1="340.1" x2="380.68" y2="345.6" stroke="#6a6a6a" stroke-width="1.3"/>
<text x="380.68" y="357.9" text-anchor="middle" font-size="9.8" font-weight="bold">100</text>
<line x1="417.32" y1="340.1" x2="417.32" y2="345.6" stroke="#6a6a6a" stroke-width="1.3"/>
<text x="417.32" y="357.9" text-anchor="middle" font-size="9.8" font-weight="bold">150</text>
<line x1="453.96" y1="340.1" x2="453.96" y2="345.6" stroke="#6a6a6a" stroke-width="1.3"/>
<text x="453.96" y="357.9" text-anchor="middle" font-size="9.8" font-weight="bold">200</text>
<line x1="490.60" y1="340.1" x2="490.60" y2="345.6" stroke="#6a6a6a" stroke-width="1.3"/>
<text x="490.60" y="357.9" text-anchor="middle" font-size="9.8" font-weight="bold">250</text>
<text x="263.2" y="209.4" font-size="17" font-weight="bold">D</text>
<text x="393.9" y="374.2" text-anchor="middle" font-size="11.8" font-weight="bold">Months</text>
<text transform="translate(278.3,285.7) rotate(-90)" text-anchor="middle" font-size="11.75" font-weight="bold">Probability of survival</text>
<text x="489" y="223.6" text-anchor="end" font-size="11.5" font-weight="bold"><tspan font-style="italic">P</tspan> = 0.025</text>
<rect x="307.4" y="307.7" width="125.10000000000002" height="32.400000000000034" fill="#fff" stroke="#6a6a6a" stroke-width="1.3"/>
<line x1="316.2" y1="319.1" x2="336" y2="319.1" stroke="#e898a2" stroke-width="1.8"/>
<line x1="316.2" y1="329.2" x2="336" y2="329.2" stroke="#7a80a6" stroke-width="1.5"/>
<text x="344.4" y="322.3" font-size="9.65" font-weight="bold">High p-cMET level</text>
<text x="344.4" y="331.8" font-size="9.65" font-weight="bold">Low p-cMET level</text>
<rect x="0" y="0" width="520" height="1.5" fill="#747474"/>
<rect x="0" y="0" width="1.6" height="387" fill="#777777"/>
<rect x="518" y="0" width="2" height="387" fill="#959597"/>
<rect x="0" y="384.6" width="520" height="2.4" fill="#808084"/>
<line x1="342.8" y1="230.8" x2="342.8" y2="236.2" stroke="#2e3c82" stroke-width="1.6"/>
<line x1="345" y1="230.8" x2="345" y2="236.2" stroke="#2e3c82" stroke-width="1.6"/>
<line x1="347.6" y1="230.8" x2="347.6" y2="236.2" stroke="#2e3c82" stroke-width="1.6"/>
<line x1="350.4" y1="230.8" x2="350.4" y2="236.2" stroke="#2e3c82" stroke-width="1.6"/>
<line x1="353" y1="230.8" x2="353" y2="236.2" stroke="#2e3c82" stroke-width="1.6"/>
<line x1="355.4" y1="230.8" x2="355.4" y2="236.2" stroke="#2e3c82" stroke-width="1.6"/>
<line x1="334.5" y1="238.5" x2="334.5" y2="243.89999999999998" stroke="#e0202e" stroke-width="1.6"/>
<line x1="336.5" y1="240.3" x2="336.5" y2="245.7" stroke="#e0202e" stroke-width="1.6"/>
<line x1="338.5" y1="241.5" x2="338.5" y2="246.89999999999998" stroke="#e0202e" stroke-width="1.6"/>
<line x1="342.5" y1="243.60000000000002" x2="342.5" y2="249.0" stroke="#e0202e" stroke-width="1.6"/>
<line x1="344.5" y1="244.60000000000002" x2="344.5" y2="250.0" stroke="#e0202e" stroke-width="1.6"/>
<line x1="346.5" y1="245.60000000000002" x2="346.5" y2="251.0" stroke="#e0202e" stroke-width="1.6"/>
<line x1="350.5" y1="247.3" x2="350.5" y2="252.7" stroke="#e0202e" stroke-width="1.6"/>
<line x1="352.5" y1="248.10000000000002" x2="352.5" y2="253.5" stroke="#e0202e" stroke-width="1.6"/>
<line x1="354.5" y1="248.70000000000002" x2="354.5" y2="254.1" stroke="#e0202e" stroke-width="1.6"/>
<rect x="103.6" y="78.2" width="5.4" height="5.4" fill="#e0202e"/>
<rect x="95.5" y="244.5" width="5.5" height="6" fill="#e0202e"/>
<rect x="103.2" y="248.3" width="6.3" height="5.5" fill="#e0202e"/>
<rect x="132.2" y="256.5" width="3" height="5" fill="#e0202e"/>
<rect x="379" y="256.4" width="4" height="5.4" fill="#e0202e"/>
</g>
</svg>
</body></html>
